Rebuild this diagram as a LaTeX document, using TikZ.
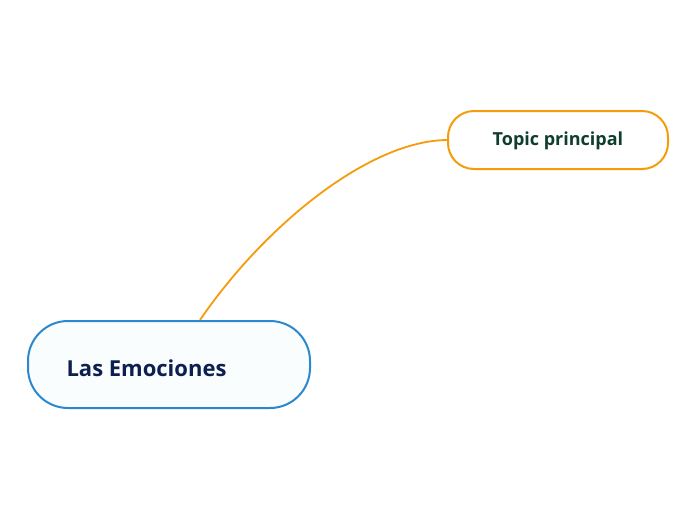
\documentclass[tikz,border=0pt]{standalone}
\usepackage{fontspec}
\setmainfont{Open Sans}
\begin{document}
\begin{tikzpicture}[x=1pt,y=-1pt]
\definecolor{mainblue}{HTML}{2B88CF}
\definecolor{navy}{HTML}{0D1F4F}
\definecolor{orng}{HTML}{F59C0B}
\definecolor{dgreen}{HTML}{0F3D2E}
\tikzset{
 mainbox/.style={draw=mainblue,line width=2pt,fill={rgb,255:red,250;green,253;blue,254},rounded corners=40pt,minimum width=282pt,minimum height=87pt,inner sep=0pt},
 topicbox/.style={draw=orng,line width=2pt,fill=white,rounded corners=26pt,minimum width=220pt,minimum height=58pt,inner sep=0pt},
 link/.style={draw=orng,line width=1.8pt}
}
\useasboundingbox (0,0) rectangle (696,520);
\fill[white] (0,0) rectangle (696,520);
\coordinate (s) at (200,320);
\coordinate (e) at (448,140);
\draw[link] (s) .. controls (265,225) and (370,140) .. (e);
\node[mainbox] (m) at (169,364.5) {};
\node[anchor=west,font=\fontsize{22}{26}\selectfont\bfseries,text=navy] (mt) at (63,368) {Las Emociones};
\node[topicbox] (t) at (558,140) {};
\node[font=\fontsize{18}{22}\selectfont\bfseries,text=dgreen] (tt) at (558,141) {Topic principal};
\end{tikzpicture}
\end{document}
